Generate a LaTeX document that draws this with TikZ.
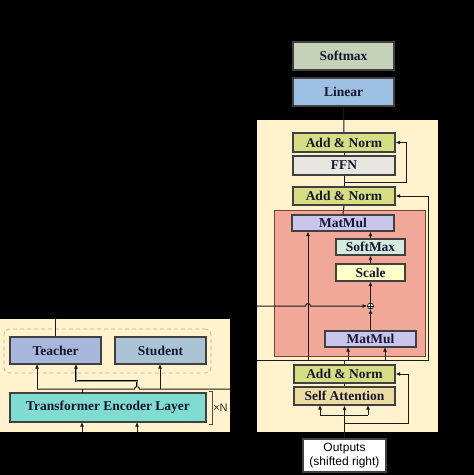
\documentclass[tikz,border=0pt]{standalone}
\usepackage{xcolor}
\usepackage{fontspec}
\setmainfont{Liberation Serif}
\newfontfamily\lsans{Liberation Sans}
\usepackage{tikz}
\usetikzlibrary{shapes,arrows,positioning,calc,arrows.meta}

\definecolor{panelY}{RGB}{255,242,204}
\definecolor{smaxC}{RGB}{197,210,184}
\definecolor{linC}{RGB}{157,192,228}
\definecolor{anC}{RGB}{214,221,130}
\definecolor{ffnC}{RGB}{231,230,224}
\definecolor{attC}{RGB}{242,168,152}
\definecolor{attB}{RGB}{125,65,55}
\definecolor{mmC}{RGB}{201,197,236}
\definecolor{smC}{RGB}{212,236,222}
\definecolor{sclC}{RGB}{255,255,200}
\definecolor{saC}{RGB}{236,219,162}
\definecolor{tchC}{RGB}{168,184,221}
\definecolor{stuC}{RGB}{170,196,214}
\definecolor{encC}{RGB}{128,220,208}
\definecolor{txtC}{RGB}{22,22,48}

\tikzset{
    box/.style={draw=black!75, line width=1.2pt, inner sep=0pt, text=txtC,
        font=\fontsize{13.5}{15}\selectfont\bfseries},
    wire/.style={line width=1pt, black!90},
    arr/.style={wire, -{Latex[length=4.5pt,width=4pt]}}
}

\begin{document}
\begin{tikzpicture}[x=1pt,y=-1pt]
    % background
    \fill[black] (0,0) rectangle (474,475);

    % Decoder side
    \node (Dec) [fill=panelY, minimum width=181pt, minimum height=312pt] at (347.5,276) {};
    \node (Att) [fill=attC, draw=attB, line width=0.9pt, minimum width=151pt, minimum height=146pt] at (349.5,283) {};

    \node (Smax) [box, fill=smaxC, minimum width=101pt, minimum height=28pt] at (343.5,56) {Softmax};
    \node (Lin)  [box, fill=linC,  minimum width=101pt, minimum height=28pt] at (343.5,92) {Linear};
    \node (AN1)  [box, fill=anC,   minimum width=102pt, minimum height=19pt] at (344,142.5) {Add \& Norm};
    \node (FFN)  [box, fill=ffnC,  minimum width=102pt, minimum height=19pt] at (344,165.5) {FFN};
    \node (AN2)  [box, fill=anC,   minimum width=102pt, minimum height=18pt] at (344,196) {Add \& Norm};
    \node (MM1)  [box, fill=mmC,   minimum width=102pt, minimum height=16pt] at (343,223) {MatMul};
    \node (SMx)  [box, fill=smC,   minimum width=69pt,  minimum height=16pt] at (370.5,247) {SoftMax};
    \node (Scl)  [box, fill=sclC,  minimum width=69pt,  minimum height=17pt] at (370.5,272.5) {Scale};
    \node (Plus) [circle, draw=black!90, line width=0.7pt, fill=white, inner sep=0pt, minimum size=6pt] at (370.5,306) {};
    \node (MM2)  [box, fill=mmC,   minimum width=91pt,  minimum height=16pt] at (370.5,339) {MatMul};
    \node (AN3)  [box, fill=anC,   minimum width=101pt, minimum height=18pt] at (344.5,374) {Add \& Norm};
    \node (SA)   [box, fill=saC,   minimum width=101pt, minimum height=18pt] at (344.5,396) {Self Attention};
    \node (Out)  [box, fill=white, font=\lsans\fontsize{12}{13.5}\selectfont, text=black, align=center,
                  minimum width=83pt, minimum height=33pt] at (344.5,455.5) {Outputs\\(shifted right)};
    \draw[line width=0.6pt] (Plus.north) -- (Plus.south) (Plus.west) -- (Plus.east);

    % Decoder connections
    \draw[wire] (AN1.north) -- (Lin.south);
    \draw[wire] (FFN.north) -- (AN1.south);
    \draw[wire] (AN2.north) -- (FFN.south);
    \coordinate (r1) at (344,182);
    \draw[arr] (r1) -- (406,182) |- (AN1.east);
    \draw[wire] (MM1.north) -- (AN2.south);
    \draw[arr] (SMx.north) -- (SMx.north |- MM1.south);
    \draw[arr] (Scl.north) -- (SMx.south);
    \draw[arr] (Plus.north) -- (Scl.south);
    \draw[arr] (MM2.north) -- (Plus.south);

    \coordinate (kin) at (257,306);
    \draw[arr] (kin) -- (305.5,306) arc[start angle=180, end angle=0, radius=2.5pt] -- (Plus.west);
    \coordinate (vin) at (308,360);
    \draw[arr] (vin) -- (vin |- MM1.south);
    \coordinate (qin) at (257,360);
    \draw[arr] (qin) -- (428,360) |- (AN2.east);
    \draw[wire] (AN3.north) -- (AN3.north |- qin);
    \draw[arr] (348,360) -- (348,347);
    \draw[arr] (385,360) -- (385,347);

    \draw[wire] (SA.north) -- (AN3.south);
    \draw[arr] (Out.north) -- (SA.south);
    \draw[wire] (320,415) -- (368,415);
    \draw[arr] (320,415) -- (320,405);
    \draw[arr] (368,415) -- (368,405);
    \coordinate (r3) at (344.5,423);
    \draw[arr] (r3) -- (408,423) |- (AN3.east);

    % Encoder side
    \node (Enc) [fill=panelY, minimum width=230pt, minimum height=113pt] at (115,375.5) {};
    \node (Grp) [draw=black!30, dash pattern=on 4pt off 3pt, line width=0.8pt, rounded corners=5pt,
                 minimum width=207pt, minimum height=44pt] at (107.5,351) {};
    \node (Tch)  [box, fill=tchC, minimum width=91pt,  minimum height=27pt] at (55.5,350.5) {Teacher};
    \node (Stu)  [box, fill=stuC, minimum width=91pt,  minimum height=27pt] at (160.5,350.5) {Student};
    \node (EncL) [box, fill=encC, minimum width=196pt, minimum height=29pt] at (108,407.5) {Transformer Encoder Layer};
    \node (xN) [font=\lsans\fontsize{11}{12}\selectfont, text=black!85] at (220.5,408) {×N};
    \draw[line width=0.8pt, black!70] (209,391) -- (212,391) -- (212,424) -- (209,424);

    % Encoder connections
    \draw[wire] (Tch.north) -- (Tch.north |- Enc.north);
    \draw[arr] (82,432) -- (82,422);
    \draw[arr] (137,432) -- (137,422);
    \draw[wire] (82,393) -- (82,389);
    \draw[wire] (37,389) -- (134.5,389) arc[start angle=180, end angle=0, radius=2.5pt] -- (230,389);
    \draw[arr] (37,389) -- (37,364);
    \draw[arr] (160,389) -- (160,364);
    \draw[line width=0.5pt, double=black!45, double distance=0.7pt] (137,386.5) -- (137,381) -- (76,381) -- (76,368);
    \draw[arr] (76,369) -- (76,364);
\end{tikzpicture}
\end{document}
